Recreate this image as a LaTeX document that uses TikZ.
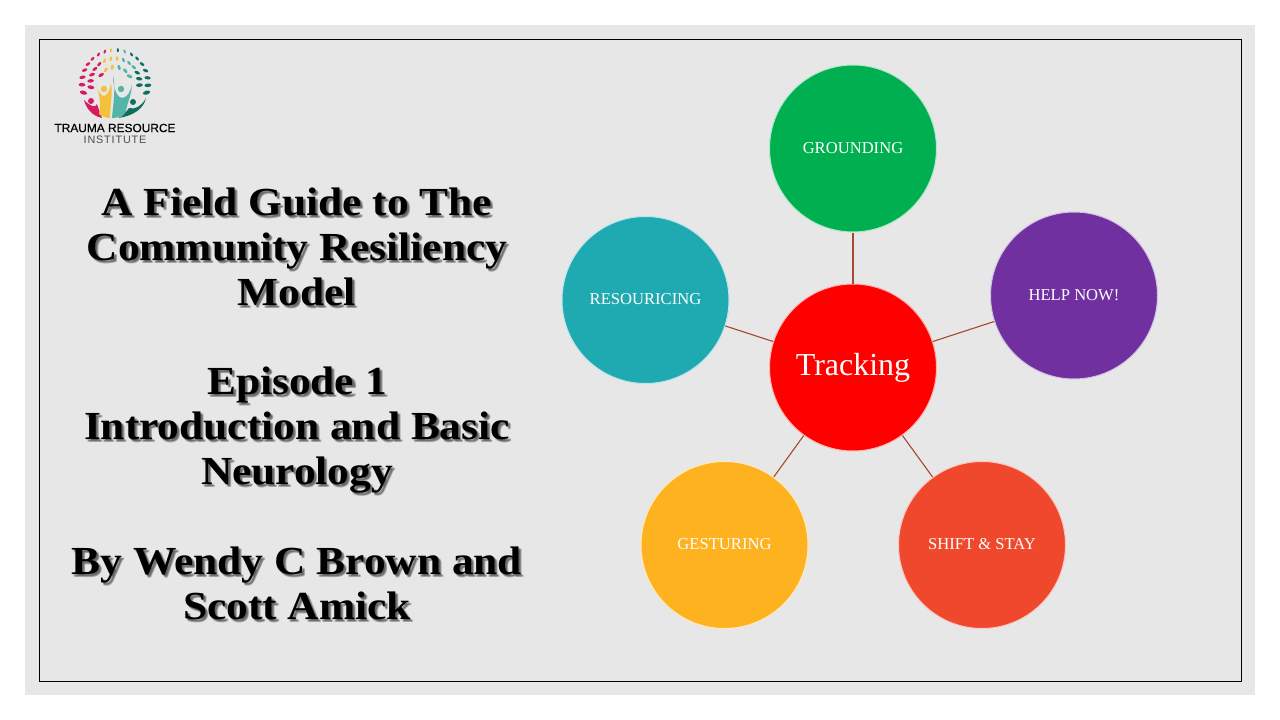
\documentclass[tikz,border=0pt]{standalone}
\usepackage{fontspec}
\setmainfont{Liberation Serif}
\newfontfamily\logofont{Liberation Sans}
\newfontfamily\titlefont[FakeStretch=1.09]{Liberation Serif}
\usetikzlibrary{calc}
\definecolor{pagebg}{HTML}{FFFFFF}
\definecolor{slidebg}{HTML}{E7E7E7}
\definecolor{spoke}{HTML}{A5482F}
\definecolor{cgreen}{HTML}{00B050}
\definecolor{cpurple}{HTML}{7030A0}
\definecolor{cteal}{HTML}{1FA9B0}
\definecolor{corange}{HTML}{FEB21F}
\definecolor{cred}{HTML}{F0482D}
\definecolor{lpink}{HTML}{D81B60}
\definecolor{lyellow}{HTML}{F4C13D}
\definecolor{lteal}{HTML}{52B5A8}
\definecolor{ldark}{HTML}{0F6E5E}
\tikzset{
  x=1pt,y=-1pt,
  hub/.style={circle,draw=#1!30!white,line width=1pt,fill=#1,minimum size=167pt,inner sep=0pt,text=white,font=\fontsize{16.6pt}{18pt}\selectfont},
  spokeline/.style={draw=spoke,line width=1.1pt},
  titleblock/.style={align=center,inner sep=0pt,text=black,font=\fontsize{39.8pt}{45pt}\selectfont\titlefont\bfseries},
  shadowblock/.style={titleblock,text=black,opacity=.16},
}
\newcommand{\shadowed}[3]{%
  \foreach \dx/\dy in {1/1,2/2,3/3,3/2,2/3}{
    \node[shadowblock] at ($(#2)+(\dx,\dy)$) {#3};
  }
  \node[titleblock] (#1) at (#2) {#3};
}
% seeds on the logo's sphere: ring radius, angle, colour
\newcommand{\seedring}[3]{%
  \foreach \a/\c in {#3}{
    \pgfmathsetmacro{\sx}{115+#1*cos(\a)}
    \pgfmathsetmacro{\sy}{#2-#1*sin(\a)}
    \pgfmathsetmacro{\sw}{1.0+0.95*(\sy-47)/45}
    \fill[\c,rotate around={90-\a:(\sx,\sy)}] (\sx,\sy) ellipse[x radius=\sw pt,y radius=1.9*\sw pt];
  }
}
\begin{document}
\begin{tikzpicture}
\useasboundingbox (0,0) rectangle (1280,720);
\fill[pagebg] (0,0) rectangle (1280,720);
\fill[slidebg] (25,25) rectangle (1255,695);
\draw[black,line width=.9pt] (39.5,39.5) rectangle (1241.5,681.5);

% logo
\seedring{33}{83}{197/lpink,183/lpink,170/lpink,157/lpink,145/lpink,133/lpink,120/lpink,108/lpink,97/lyellow,85/ldark,73/lteal,60/ldark,48/ldark,35/ldark,22/ldark,9/ldark,-4/ldark,-17/ldark}
\seedring{24.5}{83}{190/lpink,175/lpink,160/lpink,145/lpink,130/lpink,115/lyellow,100/lyellow,85/lyellow,70/lteal,55/lteal,40/lteal,25/ldark,10/ldark,-5/ldark}
\seedring{16}{83}{150/lpink,125/lyellow,100/lyellow,75/lteal,50/lteal,25/lteal}
\fill[lpink] (84,100) .. controls (92,108) and (96,107) .. (97,104) .. controls (98,108) and (100,112) .. (102,118) .. controls (92,116) and (86,108) .. (84,100) -- cycle;
\fill[lyellow] (96,85) .. controls (98,92) and (102,96) .. (104,96) .. controls (107,96) and (110,90) .. (111,83) .. controls (113,95) and (110,105) .. (110,118) .. controls (106,118) and (102,116) .. (99,114) .. controls (101,105) and (100,95) .. (96,85) -- cycle;
\fill[lteal] (113,75) .. controls (113,90) and (118,98) .. (122,98) .. controls (128,97) and (130,92) .. (132,85) .. controls (131,98) and (126,105) .. (126,113) .. controls (122,116) and (118,118) .. (112,118) .. controls (113,105) and (116,90) .. (113,75) -- cycle;
\fill[ldark] (118,118) .. controls (124,116) and (126,112) .. (129,108) .. controls (134,110) and (142,106) .. (146,98) .. controls (144,108) and (134,116) .. (118,118) -- cycle;
\fill[lpink] (91,101) circle[radius=3pt];
\fill[lyellow] (104,89) circle[radius=3.2pt];
\fill[lteal] (121,89) circle[radius=3.2pt];
\fill[ldark] (133,102) circle[radius=3pt];
\node[inner sep=0pt,font=\fontsize{11.9pt}{12pt}\selectfont\logofont\addfontfeature{FakeBold=.4}] (logotop) at (115,128) {TRAUMA RESOURCE};
\node[inner sep=0pt,text=black!70,font=\fontsize{10.8pt}{12pt}\selectfont\logofont\addfontfeature{LetterSpace=8}] (logobot) at (115,140) {INSTITUTE};

% title
\shadowed{t1}{297,247}{A Field Guide to The\\Community Resiliency\\Model}
\shadowed{t2}{297,430}{Episode 1\\Introduction and Basic\\Neurology}
\shadowed{t3}{297,583}{By Wendy C Brown and\\Scott Amick}

% cycle
\node[hub=cgreen] (ground) at (853,148.5) {\raisebox{1.5pt}{GROUNDING}};
\node[hub=cpurple] (help) at (1074,295.5) {\raisebox{1.5pt}{HELP NOW!}};
\node[hub=cteal] (res) at (645.5,300) {\raisebox{1.5pt}{RESOURICING}};
\node[hub=corange] (gest) at (724.5,545) {\raisebox{1.5pt}{GESTURING}};
\node[hub=cred] (shift) at (982,545) {\raisebox{1.5pt}{SHIFT \& STAY}};
\node[hub=red,font=\fontsize{32pt}{34pt}\selectfont] (track) at (853,367.5) {\raisebox{-2pt}{Tracking}};
\foreach \o in {ground,help,res,gest,shift}{
  \draw[spokeline] (track) -- (\o);
}
\end{tikzpicture}
\end{document}
